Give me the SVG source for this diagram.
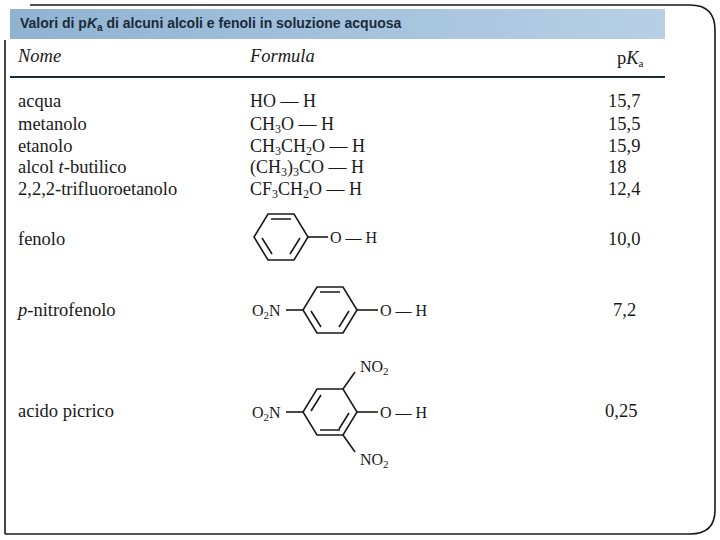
<svg xmlns="http://www.w3.org/2000/svg" width="720" height="540" viewBox="0 0 720 540">
<defs>
<linearGradient id="hb" x1="0" y1="0" x2="1" y2="0"><stop offset="0" stop-color="#8fb3d1"/><stop offset="1" stop-color="#b7d0e6"/></linearGradient>
</defs>
<style>
.t{font-family:"Liberation Serif",serif;font-size:18.5px;fill:#1a1a1a}
.f{font-family:"Liberation Serif",serif;font-size:18px;fill:#1a1a1a}
.s{font-family:"Liberation Serif",serif;font-size:16px;fill:#1a1a1a}
.b{stroke:#1a1a1a;stroke-width:1.6;fill:none}
</style>
<rect width="720" height="540" fill="#fff"/>
<path d="M5,40 V534 M30,5 H690 Q715,5 715,30 V510 Q715,534 690,534 H5" class="b" stroke-width="1.2"/>
<rect x="10" y="9" width="655" height="30" fill="url(#hb)"/>
<text x="20" y="28" font-family="Liberation Sans,sans-serif" font-weight="bold" font-size="14" fill="#1a2a3a">Valori di p<tspan font-style="italic">K</tspan><tspan font-size="10" dy="3">a</tspan><tspan dy="-3"> di alcuni alcoli e fenoli in soluzione acquosa</tspan></text>
<text x="18" y="62" class="t" font-style="italic">Nome</text>
<text x="250" y="62" class="t" font-style="italic">Formula</text>
<text x="617" y="64" class="t">p<tspan font-style="italic">K</tspan><tspan font-size="11" dy="3">a</tspan></text>
<line x1="10" y1="77" x2="665" y2="77" stroke="#1a2a3a" stroke-width="2"/>
<g id="rows">
<text x="18" y="107" class="t">acqua</text>
<text x="18" y="130" class="t">metanolo</text>
<text x="18" y="152" class="t">etanolo</text>
<text x="18" y="173" class="t">alcol <tspan font-style="italic">t</tspan>-butilico</text>
<text x="18" y="195" class="t">2,2,2-trifluoroetanolo</text>
<text x="18" y="245" class="t">fenolo</text>
<text x="18" y="316" class="t"><tspan font-style="italic">p</tspan>-nitrofenolo</text>
<text x="18" y="417" class="t">acido picrico</text>
<text x="250" y="107" class="f">HO — H</text>
<text x="250" y="130" class="f">CH<tspan font-size="12" dy="3">3</tspan><tspan dy="-3">O — H</tspan></text>
<text x="250" y="152" class="f">CH<tspan font-size="12" dy="3">3</tspan><tspan dy="-3">CH</tspan><tspan font-size="12" dy="3">2</tspan><tspan dy="-3">O — H</tspan></text>
<text x="250" y="173" class="f">(CH<tspan font-size="12" dy="3">3</tspan><tspan dy="-3">)</tspan><tspan font-size="12" dy="3">3</tspan><tspan dy="-3">CO — H</tspan></text>
<text x="250" y="195" class="f">CF<tspan font-size="12" dy="3">3</tspan><tspan dy="-3">CH</tspan><tspan font-size="12" dy="3">2</tspan><tspan dy="-3">O — H</tspan></text>
<text x="608" y="107" class="t">15,7</text>
<text x="608" y="130" class="t">15,5</text>
<text x="608" y="152" class="t">15,9</text>
<text x="608" y="173" class="t">18</text>
<text x="608" y="195" class="t">12,4</text>
<text x="608" y="245" class="t">10,0</text>
<text x="613" y="316" class="t">7,2</text>
<text x="605" y="417" class="t">0,25</text>
</g>
<g id="fenolo">
<polygon points="268,214 294,214 308,237 294,260 268,260 254,237" class="b"/>
<path d="M271,219 H291 M300,238 L290,254 M262,238 L272,254" class="b" stroke-width="1.2"/>
<line x1="308" y1="237" x2="328" y2="237" class="b"/>
<text x="330" y="243" class="s">O — H</text>
</g>
<g id="nitrofenolo">
<polygon points="317,287 343,287 357,310 343,333 317,333 303,310" class="b"/>
<path d="M320,292 H340 M311,311 L321,327 M349,311 L339,327" class="b" stroke-width="1.2"/>
<text x="252" y="316" class="s">O<tspan font-size="11" dy="3">2</tspan><tspan dy="-3">N</tspan></text>
<line x1="286" y1="310" x2="303" y2="310" class="b"/>
<line x1="357" y1="310" x2="378" y2="310" class="b"/>
<text x="380" y="316" class="s">O — H</text>
</g>
<g id="picrico">
<polygon points="317,389 343,389 357,412 343,435 317,435 303,412" class="b"/>
<path d="M320,430 H340 M311,411 L321,395 M349,413 L339,429" class="b" stroke-width="1.2"/>
<text x="252" y="418" class="s">O<tspan font-size="11" dy="3">2</tspan><tspan dy="-3">N</tspan></text>
<line x1="286" y1="412" x2="303" y2="412" class="b"/>
<line x1="357" y1="412" x2="378" y2="412" class="b"/>
<text x="380" y="418" class="s">O — H</text>
<line x1="343" y1="389" x2="355" y2="372" class="b"/>
<line x1="343" y1="435" x2="355" y2="452" class="b"/>
<text x="360" y="372" class="s">NO<tspan font-size="11" dy="3">2</tspan></text>
<text x="360" y="465" class="s">NO<tspan font-size="11" dy="3">2</tspan></text>
</g>
</svg>
